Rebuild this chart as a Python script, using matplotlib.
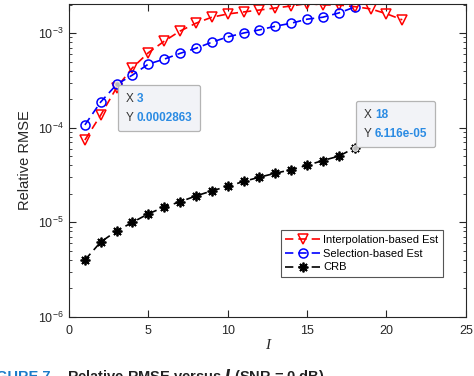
import matplotlib
matplotlib.use('Agg')
import matplotlib.pyplot as plt
from matplotlib.ticker import LogLocator, NullFormatter
from matplotlib.offsetbox import TextArea, HPacker, VPacker, AnnotationBbox

plt.rcParams['font.family'] = ['Liberation Sans', 'DejaVu Sans']

# data
I_interp = list(range(1, 22))
rmse_interp = [7.4e-5, 1.36e-4, 2.65e-4, 4.3e-4, 6.2e-4, 8.2e-4, 1.05e-3, 1.27e-3,
               1.47e-3, 1.59e-3, 1.67e-3, 1.75e-3, 1.84e-3, 1.93e-3, 2.05e-3,
               1.98e-3, 1.98e-3, 1.9e-3, 1.8e-3, 1.6e-3, 1.38e-3]

I_sel = list(range(1, 19))
rmse_sel = [1.07e-4, 1.87e-4, 2.863e-4, 3.6e-4, 4.7e-4, 5.3e-4, 6.1e-4, 6.9e-4,
            8.0e-4, 9.1e-4, 1.0e-3, 1.08e-3, 1.18e-3, 1.27e-3, 1.4e-3, 1.47e-3,
            1.63e-3, 1.88e-3]

I_crb = list(range(1, 19))
crb = [4.0e-6, 6.2e-6, 8.1e-6, 1.0e-5, 1.23e-5, 1.45e-5, 1.65e-5, 1.9e-5,
       2.15e-5, 2.4e-5, 2.7e-5, 3.0e-5, 3.3e-5, 3.6e-5, 4.0e-5, 4.5e-5,
       5.0e-5, 6.116e-5]

labels = ['Interpolation-based Est', 'Selection-based Est', 'CRB']
tips = [(3, 2.863e-4, '3', '0.0002863'), (18, 6.116e-5, '18', '6.116e-05')]

fig = plt.figure(figsize=(4.74, 3.76), dpi=100)
ax = fig.add_axes([0.1456, 0.157, 0.837, 0.832])

dash = (0, (5, 3))
ax.plot(I_interp, rmse_interp, color='red', ls=dash, lw=1.2, marker='v',
        ms=7.5, mfc='none', mew=1.1, label=labels[0])
ax.plot(I_sel, rmse_sel, color='blue', ls=dash, lw=1.2, marker='o',
        ms=6.5, mfc='none', mew=1.1, label=labels[1])
# matlab-style asterisk marker
ax.plot(I_crb, crb, color='black', ls=dash, lw=1.2, marker=(8, 2, 0),
        ms=7, mew=1.3, label=labels[2])

ax.set_yscale('log')
ax.set_xlim(0, 25)
ax.set_ylim(1e-6, 2.02e-3)
ax.set_xticks([0, 5, 10, 15, 20, 25])
ax.yaxis.set_major_locator(LogLocator(base=10, numticks=10))
ax.yaxis.set_minor_locator(LogLocator(base=10, subs=range(2, 10), numticks=20))
ax.yaxis.set_minor_formatter(NullFormatter())

edge = '#262626'
for s in ax.spines.values():
    s.set_color(edge)
    s.set_linewidth(0.8)
ax.tick_params(which='both', direction='in', top=True, right=True,
               colors=edge, labelcolor='#262626', labelsize=9)
ax.tick_params(which='major', length=5)
ax.tick_params(which='minor', length=2.5)
ax.tick_params(axis='x', pad=6)
ax.tick_params(axis='y', pad=4)

ax.set_ylabel('Relative RMSE', fontsize=10.5, color='#262626', labelpad=4)
ax.set_xlabel('I', fontsize=11, fontstyle='italic', family='Liberation Serif',
              color='#262626', labelpad=1)

leg = ax.legend(loc='lower right', bbox_to_anchor=(0.942, 0.128),
                borderaxespad=0, fontsize=8, fancybox=False, framealpha=1,
                edgecolor='#555555', handlelength=3.1, handletextpad=0.3,
                borderpad=0.4, labelspacing=0.35)
leg.get_frame().set_linewidth(0.8)

# datatips
tip_blue = '#2b8be3'
for k, (xv, yv, xs, ys) in enumerate(tips):
    ax.plot([xv], [yv], marker='o', ms=4, mfc='#b8b8b8', mec='#e8e8e8',
            mew=0.8, zorder=5)
    rows = []
    for name, val in (('X', xs), ('Y', ys)):
        rows.append(HPacker(children=[
            TextArea(name + ' ', textprops=dict(fontsize=8.5, color='#333333')),
            TextArea(val, textprops=dict(fontsize=8.5, color=tip_blue,
                                         fontweight='bold'))],
            pad=0, sep=0, align='baseline'))
    box = VPacker(children=rows, pad=0, sep=5, align='left')
    if k == 0:
        align, off = (0, 1), (6.5, -6)
    else:
        align, off = (0, 0), (6.5, 6)
    ab = AnnotationBbox(box, (xv, yv), xybox=off, boxcoords='offset points',
                        box_alignment=align, frameon=True, pad=0.55,
                        bboxprops=dict(boxstyle='round,pad=0.55,rounding_size=0.15',
                                       fc='#f2f3f7', ec='#b4b4b4', lw=0.9),
                        zorder=6)
    ax.add_artist(ab)

# caption, cut off at the image edges as in the source
fig.text(55 / 474, -0.013, 'FIGURE 7.', ha='right', va='baseline',
         fontsize=10.5, fontweight='bold', color='#1a7bc9')
fig.text(67 / 474, -0.013, r'Relative RMSE versus $\mathbfit{I}$ (SNR = 0 dB)',
         ha='left', va='baseline', fontsize=10.5, fontweight='bold',
         color='#222222')

fig.savefig('out.png', dpi=100)
